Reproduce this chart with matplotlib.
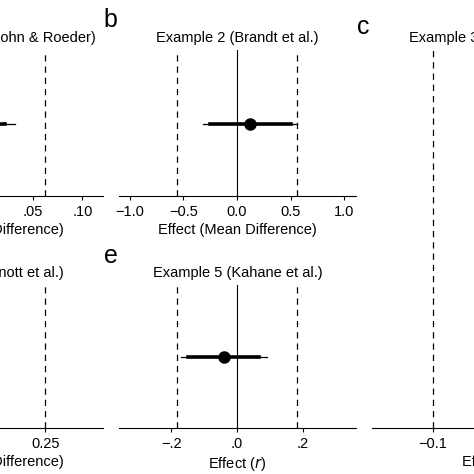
import matplotlib.pyplot as plt

plt.rcParams['font.family'] = ['Liberation Sans Narrow', 'Liberation Sans', 'DejaVu Sans']

# panel data: bounds (equivalence), estimate, 90% CI (thick), 95% CI (thin)
titles = ['Example 1 (Simonsohn & Roeder)', 'Example 2 (Brandt et al.)', 'Example 3 (Gilbert et al.)',
          'Example 4 (Lynott et al.)', 'Example 5 (Kahane et al.)']
letters = ['a', 'b', 'c', 'd', 'e']
xlabels = ['Effect (Mean Difference)', 'Effect (Mean Difference)', 'Effect (r)',
           'Effect (Mean Difference)', 'Effect ($r$)']
bounds = [(-0.0622, 0.0622), (-0.56, 0.56), (-0.1, 0.1), (-0.25, 0.25), (-0.182, 0.182)]
estimates = [0.0, 0.12, None, None, -0.04]
ci_thick = [(-0.02, 0.0214), (-0.25, 0.50), None, None, (-0.15, 0.065)]
ci_thin = [(-0.031, 0.0316), (-0.32, 0.56), None, None, (-0.17, 0.09)]
xlims = [(-0.120, 0.121), (-1.10, 1.11), (-0.207, 0.209), (-0.496, 0.49), (-0.358, 0.36)]
xticks = [[-0.10, -0.05, 0.0, 0.05, 0.10], [-1.0, -0.5, 0.0, 0.5, 1.0], [-0.1, 0.0, 0.1],
          [-0.25, 0.0, 0.25], [-0.2, 0.0, 0.2]]
ticklabels = [['\u2212.10', '\u2212.05', '.00', '.05', '.10'], ['\u22121.0', '\u22120.5', '0.0', '0.5', '1.0'],
              ['\u22120.1', '0.0', '0.1'], ['\u22120.25', '0.00', '0.25'], ['\u2212.2', '.0', '.2']]

W = 474
fig = plt.figure(figsize=(4.74, 4.74), dpi=100)
top_row = (196, 50)
bot_row = (428, 285)
rects = [(-134, top_row), (119, top_row), (372, (428, 50)), (-134, bot_row), (119, bot_row)]
pt_y = [0.49, 0.49, None, None, 0.5]

for i in range(5):
    x0, (yb, yt) = rects[i]
    ax = fig.add_axes([x0 / W, 1 - yb / W, 237 / W, (yb - yt) / W])
    for s in ['top', 'left', 'right']:
        ax.spines[s].set_visible(False)
    ax.spines['bottom'].set_linewidth(0.8)
    ax.set_yticks([])
    ax.set_ylim(0, 1)
    ax.set_xlim(*xlims[i])
    ax.set_xticks(xticks[i])
    ax.set_xticklabels(ticklabels[i], fontsize=10.5)
    ax.tick_params(axis='x', length=3, width=0.8)
    ax.set_xlabel(xlabels[i], fontsize=10.5, labelpad=3)
    ax.set_title(titles[i], fontsize=10.5, pad=6)
    for b in bounds[i]:
        ax.plot([b, b], [0, 1], color='black', ls=(0, (5, 4)), lw=0.9, clip_on=False)
    if i in (1, 4):
        ax.plot([0, 0], [0, 1], color='black', lw=0.8)
    if estimates[i] is not None:
        y = pt_y[i]
        ax.plot(ci_thin[i], [y, y], color='black', lw=0.9)
        ax.plot(ci_thick[i], [y, y], color='black', lw=2.6)
        ax.plot([estimates[i]], [y], 'o', color='black', ms=8)
    ax.text(-0.035, 1.12 if yb - yt < 200 else 1.03, letters[i], transform=ax.transAxes,
            fontsize=18, ha='center', va='bottom')

fig.savefig('out.png', dpi=100)
